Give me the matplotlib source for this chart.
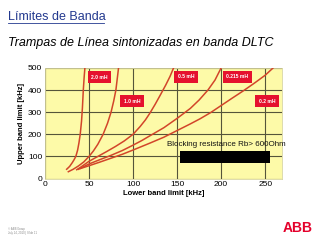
import matplotlib.pyplot as plt
from matplotlib.patches import Rectangle

plt.rcParams['font.family'] = ['Liberation Sans', 'DejaVu Sans']

# Kurven: untere Bandgrenze (x) gegen obere Bandgrenze (y), kHz
c1_x = [24.6, 28, 31, 33, 35, 37, 38.5, 40, 41.5, 42.5, 43.5, 44.5, 45.3]
c1_y = [42, 55, 72, 85, 100, 128, 160, 200, 260, 320, 400, 460, 500]
c2_x = [26.5, 32, 38, 44, 50, 55, 60, 66, 71, 75, 78, 80.5, 82, 83.5]
c2_y = [31, 42, 57, 75, 100, 125, 155, 200, 250, 300, 350, 400, 450, 500]
c3_x = [36, 40, 50, 60, 70, 80, 90, 100, 108, 114, 119, 125, 131, 137, 142, 146]
c3_y = [40, 50, 78, 100, 122, 145, 170, 200, 235, 265, 295, 335, 378, 422, 462, 500]
c4_x = [38, 50, 62, 75, 88, 100, 110, 119, 135, 150, 165, 175, 185, 193, 200]
c4_y = [42, 66, 85, 105, 127, 151, 172, 193, 230, 272, 317, 355, 400, 445, 500]
c5_x = [40, 50, 62, 75, 88, 100, 119, 135, 150, 165, 176, 188, 200, 212, 225,
        238, 250, 259]
c5_y = [45, 58, 74, 92, 110, 129, 160, 187, 217, 247, 270, 298, 330, 362, 396,
        432, 467, 500]

labels = ['2.0 mH', '1.0 mH', '0.5 mH', '0.215 mH', '0.2 mH']
label_x = [62, 99, 160, 218, 252]
label_y = [458, 350, 460, 460, 350]

x_ticks = [0, 50, 100, 150, 200, 250]
y_ticks = [0, 100, 200, 300, 400, 500]

# schwarzer Balken unter dem Text
box_x0, box_x1 = 153, 256
box_y0, box_y1 = 71, 124

red = '#d2452a'
fig = plt.figure(figsize=(3.2, 2.4), dpi=100)
ax = fig.add_axes([0.1406, 0.256, 0.7404, 0.461])
ax.set_facecolor('#fdfaa8')

for xs, ys in [(c1_x, c1_y), (c2_x, c2_y), (c3_x, c3_y), (c4_x, c4_y), (c5_x, c5_y)]:
    ax.plot(xs, ys, color=red, lw=1.1, zorder=3)

for t, x, y in zip(labels, label_x, label_y):
    ax.text(x, y, t, color='white', fontsize=3.6, fontweight='bold',
            ha='center', va='center', zorder=4,
            bbox=dict(boxstyle='square,pad=0.7', fc='#e5112e', ec='none'))

ax.text(206, 154, 'Blocking resistance Rb> 600Ohm', fontsize=5.8,
        ha='center', va='center', color='#111111', zorder=4)
ax.add_patch(Rectangle((box_x0, box_y0), box_x1 - box_x0, box_y1 - box_y0,
                       fc='black', ec='none', zorder=4))

ax.set_xlim(0, 269)
ax.set_ylim(0, 500)
ax.set_xticks(x_ticks)
ax.set_yticks(y_ticks)
ax.grid(True, color='#55553a', lw=0.8)
ax.tick_params(length=0, labelsize=6, pad=2)
for s in ax.spines.values():
    s.set_color('#d8d6a0')
    s.set_linewidth(0.6)
ax.set_xlabel('Lower band limit [kHz]', fontsize=5.5, fontweight='bold', labelpad=1)
ax.set_ylabel('Upper band limit [kHz]', fontsize=5.5, fontweight='bold', labelpad=2)

# Kopfzeilen
fig.text(8 / 320, 1 - 17 / 240, 'Límites de Banda', fontsize=9, color='#23398f',
         va='center', ha='left')
fig.add_artist(plt.Line2D([8 / 320, 104 / 320], [1 - 23 / 240] * 2,
                          color='#23398f', lw=0.6))
fig.text(8 / 320, 1 - 43 / 240, 'Trampas de Línea sintonizadas en banda DLTC',
         fontsize=9, style='italic', color='black', va='center', ha='left')

# Fusszeile
fig.text(8 / 320, 1 - 231 / 240, '© ABB Group\nJuly 14, 2010 | Slide 11',
         fontsize=2, color='#888888', va='center', ha='left', linespacing=1.2)
fig.text(313 / 320, 1 - 228 / 240, 'ABB', fontsize=10, fontweight='bold',
         color='#e4002b', va='center', ha='right')

fig.savefig('out.png', dpi=100)
